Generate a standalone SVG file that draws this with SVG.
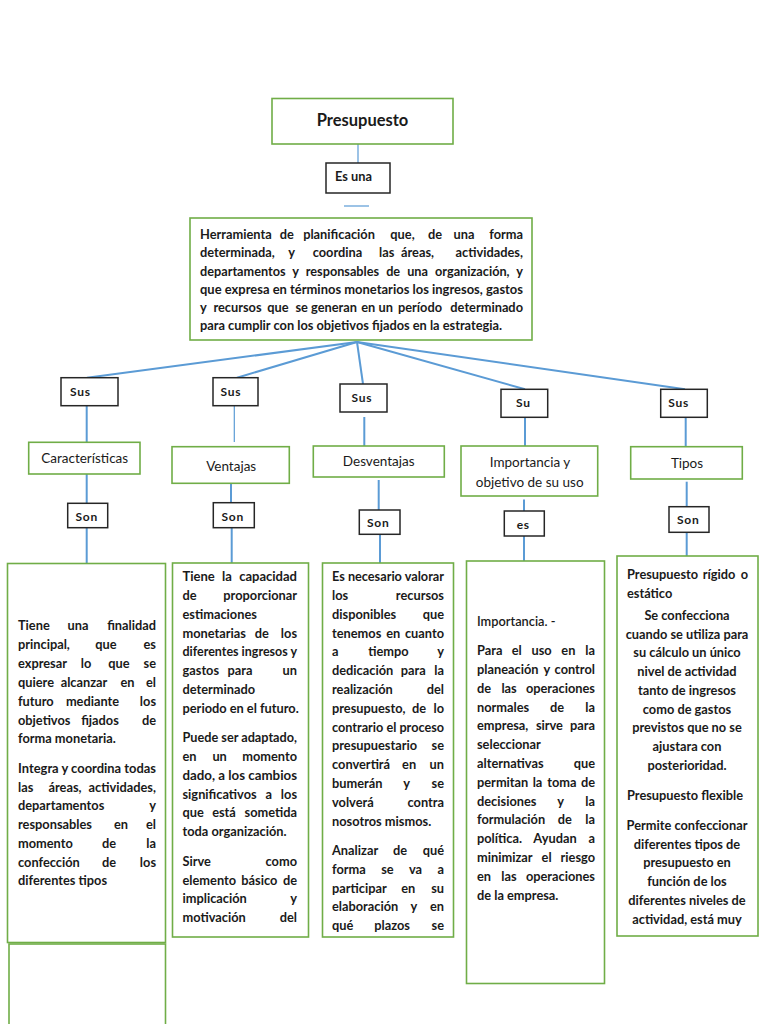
<svg xmlns="http://www.w3.org/2000/svg" width="768" height="1024" viewBox="0 0 768 1024">
<style>
.t{font-family:Lato,"Liberation Sans",sans-serif;font-size:12.8px;font-weight:700;fill:#1a1a1a}
.r{font-family:Lato,"Liberation Sans",sans-serif;font-size:13.5px;font-weight:400;fill:#1a1a1a}
.s{font-family:Lato,"Liberation Sans",sans-serif;font-size:12px;font-weight:700;fill:#1a1a1a;letter-spacing:0.8px}
.m{text-anchor:middle}
.e{text-anchor:end}
.g{fill:#fff;stroke:#70ad47;stroke-width:1.6}
.k{fill:#fff;stroke:#262626;stroke-width:1.5}
.c{stroke:#5b9bd5;stroke-width:2;fill:none}
.c1{stroke:#5b9bd5;stroke-width:1.2;fill:none}
</style>
<rect width="768" height="1024" fill="#fff"/>
<g id="connectors">
<line class="c1" x1="358" y1="144" x2="358" y2="163"/>
<line class="c1" x1="344" y1="206" x2="369" y2="206"/>
<line class="c" x1="357" y1="342" x2="87" y2="377.7"/>
<line class="c" x1="357" y1="342" x2="237" y2="377.7"/>
<line class="c" x1="357" y1="342" x2="363" y2="384"/>
<line class="c" x1="357" y1="342" x2="525" y2="389.3"/>
<line class="c" x1="357" y1="342" x2="685" y2="389.3"/>
<line class="c" x1="86.7" y1="405.7" x2="86.7" y2="442.3"/>
<line class="c1" x1="234.3" y1="405.7" x2="234.3" y2="442"/>
<line class="c" x1="364.3" y1="417" x2="364.3" y2="446"/>
<line class="c" x1="525" y1="417.3" x2="525" y2="446"/>
<line class="c" x1="685.7" y1="417.3" x2="685.7" y2="446.7"/>
<line class="c" x1="86.7" y1="474" x2="86.7" y2="503.3"/>
<line class="c" x1="86.7" y1="527.7" x2="86.7" y2="563.5"/>
<line class="c" x1="231" y1="484" x2="231" y2="502.7"/>
<line class="c" x1="231.7" y1="527.7" x2="231.7" y2="563"/>
<line class="c" x1="378.7" y1="480" x2="378.7" y2="510"/>
<line class="c" x1="380" y1="534.3" x2="380" y2="563"/>
<line class="c" x1="524" y1="499.5" x2="524" y2="511"/>
<line class="c" x1="524" y1="536" x2="524" y2="561"/>
<line class="c" x1="686.7" y1="481.7" x2="686.7" y2="506.7"/>
<line class="c" x1="686.7" y1="532.3" x2="686.7" y2="556"/>
</g>
<g id="presupuesto">
<rect class="g" x="272" y="98.5" width="181" height="45.5"/>
<text class="t m" x="362.5" y="126" style="font-size:16.5px">Presupuesto</text>
</g>
<g id="es-una">
<rect class="k" x="326" y="163" width="64" height="30"/>
<text class="t" x="335" y="181">Es una</text>
</g>
<g id="definicion">
<rect class="g" x="190" y="218" width="342" height="122"/>
<g class="t">
<text x="200" y="239">Herramienta</text><text class="m" x="286.7" y="239">de</text><text class="m" x="339" y="239">planificación</text><text class="m" x="402.5" y="239">que,</text><text class="m" x="435" y="239">de</text><text class="m" x="464" y="239">una</text><text class="e" x="523" y="239">forma</text>
<text x="200" y="257">determinada,</text><text class="m" x="291.7" y="257">y</text><text class="m" x="337.5" y="257">coordina</text><text class="m" x="386.7" y="257">las</text><text class="m" x="417.5" y="257">áreas,</text><text class="e" x="523" y="257">actividades,</text>
<text x="200" y="275.5" textLength="323" lengthAdjust="spacingAndGlyphs" word-spacing="4">departamentos y responsables de una organización, y</text>
<text x="200" y="294" textLength="323" lengthAdjust="spacingAndGlyphs">que expresa en términos monetarios los ingresos, gastos</text>
<text x="200" y="312">y</text><text class="m" x="237.5" y="312">recursos</text><text class="m" x="278" y="312">que</text><text class="m" x="301.7" y="312">se</text><text class="m" x="334" y="312">generan</text><text class="m" x="368.3" y="312">en</text><text class="m" x="385.8" y="312">un</text><text class="m" x="420" y="312">período</text><text class="e" x="523" y="312">determinado</text>
<text x="200" y="330">para cumplir con los objetivos fijados en la estrategia.</text>
</g>
</g>
<g id="sus-1"><rect class="k" x="61" y="377.7" width="57" height="28"/><text class="s m" x="80.5" y="396">Sus</text></g>
<g id="sus-2"><rect class="k" x="213" y="377.7" width="45" height="28"/><text class="s m" x="231" y="396">Sus</text></g>
<g id="sus-3"><rect class="k" x="340" y="384" width="47" height="28"/><text class="s m" x="362" y="401.7">Sus</text></g>
<g id="su-4"><rect class="k" x="501" y="389.3" width="46.7" height="28"/><text class="s m" x="523.3" y="406.7">Su</text></g>
<g id="sus-5"><rect class="k" x="660.7" y="389.3" width="46.6" height="28"/><text class="s m" x="678.7" y="406.7">Sus</text></g>
<g id="caracteristicas"><rect class="g" x="28.7" y="442.3" width="111.3" height="31.7"/><text class="r m" x="84.7" y="463.3">Características</text></g>
<g id="ventajas"><rect class="g" x="172" y="446.7" width="117.3" height="36.6"/><text class="r m" x="231.2" y="470.7">Ventajas</text></g>
<g id="desventajas"><rect class="g" x="313.3" y="446" width="131" height="31"/><text class="r m" x="378.7" y="466">Desventajas</text></g>
<g id="importancia"><rect class="g" x="461" y="446" width="136.7" height="50"/><text class="r m" x="530" y="467.3">Importancia y</text><text class="r m" x="529.7" y="487.3">objetivo de su uso</text></g>
<g id="tipos"><rect class="g" x="630.7" y="446.7" width="111.6" height="32.3"/><text class="r m" x="687" y="468.3">Tipos</text></g>
<g id="son-1"><rect class="k" x="67.7" y="503.3" width="40" height="24.4"/><text class="s m" x="86.7" y="520.7">Son</text></g>
<g id="son-2"><rect class="k" x="213.3" y="502.7" width="41" height="25"/><text class="s m" x="232.7" y="520.7">Son</text></g>
<g id="son-3"><rect class="k" x="359.3" y="510" width="40.7" height="24.3"/><text class="s m" x="378.3" y="527.3">Son</text></g>
<g id="es-4"><rect class="k" x="504.3" y="511" width="40" height="25"/><text class="s m" x="523.3" y="529">es</text></g>
<g id="son-5"><rect class="k" x="669" y="506.7" width="40" height="25.6"/><text class="s m" x="688.3" y="524">Son</text></g>
<g id="texto-caracteristicas">
<rect class="g" x="7.5" y="563.5" width="158" height="379"/>
<rect class="g" x="9" y="944" width="156.5" height="100"/>
<g class="t">
<text x="18" y="630">Tiene</text><text class="m" x="78" y="630">una</text><text class="e" x="156" y="630">finalidad</text>
<text x="18" y="649">principal,</text><text class="m" x="106" y="649">que</text><text class="e" x="156" y="649">es</text>
<text x="18" y="668">expresar</text><text class="m" x="86" y="668">lo</text><text class="m" x="119" y="668">que</text><text class="e" x="156" y="668">se</text>
<text x="18" y="687">quiere</text><text class="m" x="84" y="687">alcanzar</text><text class="m" x="127.5" y="687">en</text><text class="e" x="156" y="687">el</text>
<text x="18" y="705.5">futuro</text><text class="m" x="92.5" y="705.5">mediante</text><text class="e" x="156" y="705.5">los</text>
<text x="18" y="724.5">objetivos</text><text class="m" x="100" y="724.5">fijados</text><text class="e" x="156" y="724.5">de</text>
<text x="18" y="743">forma monetaria.</text>
<text x="18" y="772.5" textLength="138" lengthAdjust="spacingAndGlyphs">Integra y coordina todas</text>
<text x="18" y="791.5">las</text><text class="m" x="65" y="791.5">áreas,</text><text class="e" x="156" y="791.5">actividades,</text>
<text x="18" y="810">departamentos</text><text class="e" x="156" y="810">y</text>
<text x="18" y="829">responsables</text><text class="m" x="121" y="829">en</text><text class="e" x="156" y="829">el</text>
<text x="18" y="848">momento</text><text class="m" x="109" y="848">de</text><text class="e" x="156" y="848">la</text>
<text x="18" y="866.5">confección</text><text class="m" x="109" y="866.5">de</text><text class="e" x="156" y="866.5">los</text>
<text x="18" y="885">diferentes tipos</text>
</g>
</g>
<g id="texto-ventajas">
<rect class="g" x="172.5" y="563" width="136" height="374"/>
<g class="t">
<text x="182.5" y="581" textLength="114.5" lengthAdjust="spacingAndGlyphs" word-spacing="4">Tiene la capacidad</text>
<text x="182.5" y="600">de</text><text class="e" x="297" y="600">proporcionar</text>
<text x="182.5" y="618.5">estimaciones</text>
<text x="182.5" y="637.5">monetarias</text><text class="m" x="261.7" y="637.5">de</text><text class="e" x="297" y="637.5">los</text>
<text x="182.5" y="656" textLength="114.5" lengthAdjust="spacingAndGlyphs">diferentes ingresos y</text>
<text x="182.5" y="675">gastos</text><text class="m" x="240" y="675">para</text><text class="e" x="297" y="675">un</text>
<text x="182.5" y="693.5">determinado</text>
<text x="182.5" y="712.5">periodo en el futuro.</text>
<text x="182.5" y="742" textLength="114.5" lengthAdjust="spacingAndGlyphs">Puede ser adaptado,</text>
<text x="182.5" y="761">en</text><text class="m" x="219.6" y="761">un</text><text class="e" x="297" y="761">momento</text>
<text x="182.5" y="779.5" textLength="114.5" lengthAdjust="spacingAndGlyphs">dado, a los cambios</text>
<text x="182.5" y="798.5">significativos</text><text class="m" x="268.7" y="798.5">a</text><text class="e" x="297" y="798.5">los</text>
<text x="182.5" y="817">que</text><text class="m" x="224" y="817">está</text><text class="e" x="297" y="817">sometida</text>
<text x="182.5" y="836">toda organización.</text>
<text x="182.5" y="865.5">Sirve</text><text class="e" x="297" y="865.5">como</text>
<text x="182.5" y="884.5">elemento</text><text class="m" x="259.3" y="884.5">básico</text><text class="e" x="297" y="884.5">de</text>
<text x="182.5" y="903">implicación</text><text class="e" x="297" y="903">y</text>
<text x="182.5" y="922">motivación</text><text class="e" x="297" y="922">del</text>
</g>
</g>
<g id="texto-desventajas">
<rect class="g" x="322.5" y="563" width="131" height="374"/>
<g class="t">
<text x="332" y="581" textLength="112" lengthAdjust="spacingAndGlyphs">Es necesario valorar</text>
<text x="332" y="600">los</text><text class="e" x="444" y="600">recursos</text>
<text x="332" y="618.5">disponibles</text><text class="e" x="444" y="618.5">que</text>
<text x="332" y="637.5">tenemos</text><text class="m" x="393.2" y="637.5">en</text><text class="e" x="444" y="637.5">cuanto</text>
<text x="332" y="656">a</text><text class="m" x="388.4" y="656">tiempo</text><text class="e" x="444" y="656">y</text>
<text x="332" y="675">dedicación</text><text class="m" x="413.2" y="675">para</text><text class="e" x="444" y="675">la</text>
<text x="332" y="694">realización</text><text class="e" x="444" y="694">del</text>
<text x="332" y="712.5">presupuesto,</text><text class="m" x="419" y="712.5">de</text><text class="e" x="444" y="712.5">lo</text>
<text x="332" y="731.5" textLength="112" lengthAdjust="spacingAndGlyphs">contrario el proceso</text>
<text x="332" y="750">presupuestario</text><text class="e" x="444" y="750">se</text>
<text x="332" y="769">convertirá</text><text class="m" x="409.1" y="769">en</text><text class="e" x="444" y="769">un</text>
<text x="332" y="788">bumerán</text><text class="m" x="406.7" y="788">y</text><text class="e" x="444" y="788">se</text>
<text x="332" y="806.5">volverá</text><text class="e" x="444" y="806.5">contra</text>
<text x="332" y="825.5">nosotros mismos.</text>
<text x="332" y="855">Analizar</text><text class="m" x="400" y="855">de</text><text class="e" x="444" y="855">qué</text>
<text x="332" y="873.5">forma</text><text class="m" x="387.4" y="873.5">se</text><text class="m" x="415.5" y="873.5">va</text><text class="e" x="444" y="873.5">a</text>
<text x="332" y="892.5">participar</text><text class="m" x="408.3" y="892.5">en</text><text class="e" x="444" y="892.5">su</text>
<text x="332" y="911">elaboración</text><text class="m" x="413.9" y="911">y</text><text class="e" x="444" y="911">en</text>
<text x="332" y="930">qué</text><text class="m" x="392.1" y="930">plazos</text><text class="e" x="444" y="930">se</text>
</g>
</g>
<g id="texto-importancia">
<rect class="g" x="466.5" y="561" width="138" height="422.5"/>
<g class="t">
<text x="477" y="626" style="font-weight:600">Importancia. -</text>
<text x="477" y="655">Para</text><text class="m" x="516.7" y="655">el</text><text class="m" x="541.6" y="655">uso</text><text class="m" x="568.4" y="655">en</text><text class="e" x="595" y="655">la</text>
<text x="477" y="674">planeación</text><text class="m" x="546.8" y="674">y</text><text class="e" x="595" y="674">control</text>
<text x="477" y="692.5">de</text><text class="m" x="509.1" y="692.5">las</text><text class="e" x="595" y="692.5">operaciones</text>
<text x="477" y="711.5">normales</text><text class="m" x="557.1" y="711.5">de</text><text class="e" x="595" y="711.5">la</text>
<text x="477" y="730">empresa,</text><text class="m" x="549.4" y="730">sirve</text><text class="e" x="595" y="730">para</text>
<text x="477" y="749">seleccionar</text>
<text x="477" y="768">alternativas</text><text class="e" x="595" y="768">que</text>
<text x="477" y="786.5">permitan</text><text class="m" x="537.5" y="786.5">la</text><text class="m" x="561.9" y="786.5">toma</text><text class="e" x="595" y="786.5">de</text>
<text x="477" y="805.5">decisiones</text><text class="m" x="560.7" y="805.5">y</text><text class="e" x="595" y="805.5">la</text>
<text x="477" y="824">formulación</text><text class="m" x="564.8" y="824">de</text><text class="e" x="595" y="824">la</text>
<text x="477" y="843">política.</text><text class="m" x="555" y="843">Ayudan</text><text class="e" x="595" y="843">a</text>
<text x="477" y="862">minimizar</text><text class="m" x="546.6" y="862">el</text><text class="e" x="595" y="862">riesgo</text>
<text x="477" y="880.5">en</text><text class="m" x="509" y="880.5">las</text><text class="e" x="595" y="880.5">operaciones</text>
<text x="477" y="899.5">de la empresa.</text>
</g>
</g>
<g id="texto-tipos">
<rect class="g" x="617" y="556" width="141" height="380"/>
<g class="t">
<text x="627" y="579">Presupuesto</text><text class="m" x="719" y="579">rígido</text><text class="e" x="748" y="579">o</text>
<text x="627" y="597.5">estático</text>
<text class="m" x="687" y="620">Se confecciona</text>
<text class="m" x="687" y="638.5">cuando se utiliza para</text>
<text class="m" x="687" y="657">su cálculo un único</text>
<text class="m" x="687" y="676">nivel de actividad</text>
<text class="m" x="687" y="694.5">tanto de ingresos</text>
<text class="m" x="687" y="713.5">como de gastos</text>
<text class="m" x="687" y="732">previstos que no se</text>
<text class="m" x="687" y="751">ajustara con</text>
<text class="m" x="687" y="770">posterioridad.</text>
<text x="627" y="800">Presupuesto flexible</text>
<text class="m" x="687" y="829.5">Permite confeccionar</text>
<text class="m" x="687" y="848.5">diferentes tipos de</text>
<text class="m" x="687" y="867">presupuesto en</text>
<text class="m" x="687" y="886">función de los</text>
<text class="m" x="687" y="904.5">diferentes niveles de</text>
<text class="m" x="687" y="923.5">actividad, está muy</text>
</g>
</g>
</svg>
